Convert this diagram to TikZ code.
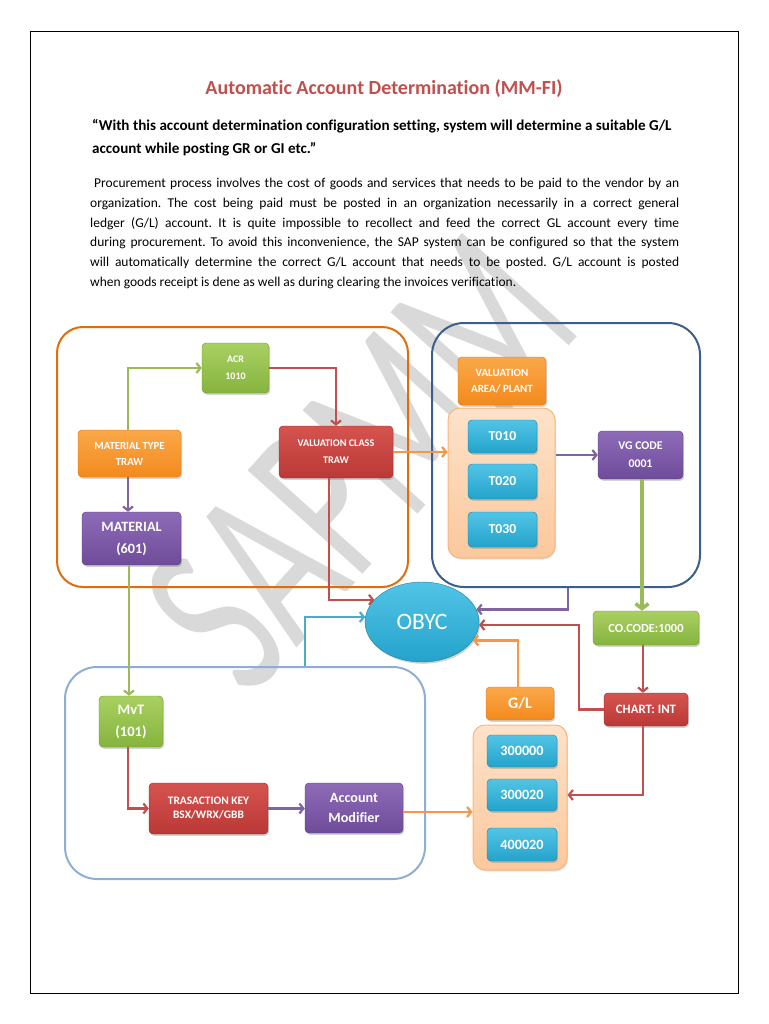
\documentclass[tikz,border=0pt]{standalone}
\usepackage{fontspec}
\setmainfont{Carlito}[Ligatures=NoCommon]
\usetikzlibrary{shapes.geometric,arrows.meta,shadows,calc}
\definecolor{cgreen}{HTML}{86B43E}
\definecolor{cgreenL}{HTML}{A9D062}
\definecolor{cgreenD}{HTML}{6E9231}
\definecolor{corange}{HTML}{F38A1C}
\definecolor{corangeL}{HTML}{FAA84A}
\definecolor{corangeD}{HTML}{D7700C}
\definecolor{cred}{HTML}{BA3835}
\definecolor{credL}{HTML}{D65450}
\definecolor{credD}{HTML}{8E2A28}
\definecolor{cpurple}{HTML}{6F4C9A}
\definecolor{cpurpleL}{HTML}{8E6BB7}
\definecolor{cpurpleD}{HTML}{553A78}
\definecolor{ccyan}{HTML}{24A3CB}
\definecolor{ccyanL}{HTML}{52C4E6}
\definecolor{ccyanD}{HTML}{1F7F9C}
\definecolor{cpeach}{HTML}{FBC89C}
\definecolor{cpeachL}{HTML}{FDE2CA}
\definecolor{cpeachD}{HTML}{F9B57A}
\definecolor{lgreen}{HTML}{9BBB59}
\definecolor{lred}{HTML}{C0504D}
\definecolor{lpurple}{HTML}{8064A2}
\definecolor{lorange}{HTML}{F79646}
\definecolor{lteal}{HTML}{4BACC6}
\definecolor{kor}{HTML}{E36C0A}
\definecolor{kblue}{HTML}{3B5E8C}
\definecolor{klblue}{HTML}{8EAED6}
\definecolor{titlered}{HTML}{C0504D}
\frenchspacing
\begin{document}
\begin{tikzpicture}[x=1pt,y=-1pt,
  box/.style={rounded corners=4pt, inner sep=0pt, align=center, text=white,
    drop shadow={shadow xshift=1.2pt,shadow yshift=-1.8pt,opacity=.35}},
  fs/.style 2 args={font=\bfseries\fontsize{#1}{#2}\selectfont},
  gbox/.style={box, draw=cgreenD, top color=cgreenL, bottom color=cgreen},
  obox/.style={box, draw=corangeD, top color=corangeL, bottom color=corange},
  rbox/.style={box, draw=credD, top color=credL, bottom color=cred},
  pbox/.style={box, draw=cpurpleD, top color=cpurpleL, bottom color=cpurple},
  cbox/.style={box, draw=ccyanD, top color=ccyanL, bottom color=ccyan},
  pcont/.style={rounded corners=12pt, inner sep=0pt, draw=cpeachD, line width=1pt,
    top color=cpeachL, bottom color=cpeach,
    drop shadow={shadow xshift=1pt,shadow yshift=-1.5pt,opacity=.2}},
  bigcont/.style={inner sep=0pt, line width=2pt},
  arr/.style={line width=2.2pt, -{Straight Barb[length=4pt,width=10pt]}},
  txt/.style={anchor=base west, inner sep=0pt}
]
\useasboundingbox (0,0) rectangle (768,1024);
% watermark
\node[inner sep=0pt, rotate=48, text=black!15, font=\fontsize{241}{241}\selectfont] (wm) at (360,462) {\scalebox{0.64}[1]{SAPMM}};
% page frame
\draw[line width=1pt] (30.5,31.5) rectangle (738,993);
% title and text
\node[anchor=base, inner sep=0pt, text=titlered, font=\bfseries\fontsize{20}{24}\selectfont] (title) at (384,95) {Automatic Account Determination (MM-FI)};
\begin{scope}[every node/.style={txt, font=\bfseries\fontsize{15.1}{18}\selectfont}]
\node (q1) at (92,131) {“With this account determination configuration setting, system will determine a suitable G/L};
\node (q2) at (92,154) {account while posting GR or GI etc.”};
\end{scope}
\begin{scope}[every node/.style={txt, font=\fontsize{13.5}{16}\selectfont}]
\node (p1) at (94,188) {\makebox[585pt][s]{Procurement process involves the cost of goods and services that needs to be paid to the vendor by an}};
\node (p2) at (90,207.6) {\makebox[589pt][s]{organization. The cost being paid must be posted in an organization necessarily in a correct general}};
\node (p3) at (90,227.2) {\makebox[589pt][s]{ledger (G/L) account. It is quite impossible to recollect and feed the correct GL account every time}};
\node (p4) at (90,246.8) {\makebox[589pt][s]{during procurement. To avoid this inconvenience, the SAP system can be configured so that the system}};
\node (p5) at (90,266.4) {\makebox[589pt][s]{will automatically determine the correct G/L account that needs to be posted. G/L account is posted}};
\node (p6) at (90,286) {when goods receipt is dene as well as during clearing the invoices verification.};
\end{scope}
% big containers
\node[bigcont, draw=kor, minimum width=351pt, minimum height=260pt, rounded corners=26pt] (ocont) at (232.5,457) {};
\node[bigcont, draw=kblue, minimum width=268pt, minimum height=264pt, rounded corners=32pt] (bcont) at (566,455) {};
\node[bigcont, draw=klblue, minimum width=360pt, minimum height=212pt, rounded corners=32pt] (lbcont) at (245,773) {};
% peach containers
\node[pcont, minimum width=107pt, minimum height=150pt] (tcont) at (501.5,483) {};
\node[pcont, minimum width=94pt, minimum height=145pt] (gcont) at (520,797.5) {};
% boxes
\node[gbox, fs={10}{17}, minimum width=67pt, minimum height=50pt] (acr) at (235.5,368) {ACR\\1010};
\node[obox, fs={10.8}{16}, minimum width=103pt, minimum height=47pt] (mtype) at (129.5,453.5) {MATERIAL TYPE\\TRAW};
\node[rbox, fs={10.2}{17}, minimum width=114pt, minimum height=52pt] (vclass) at (336,452) {VALUATION CLASS\\TRAW};
\node[pbox, fs={14.2}{22}, minimum width=99pt, minimum height=53pt] (mat) at (131.5,538.5) {MATERIAL\\(601)};
\node[obox, fs={11}{16}, minimum width=88pt, minimum height=48pt] (varea) at (502,381) {VALUATION\\AREA/ PLANT};
\node[cbox, fs={13.8}{16}, minimum width=69pt, minimum height=33pt] (t1) at (502.5,436.5) {T010};
\node[cbox, fs={13.8}{16}, minimum width=69pt, minimum height=35pt] (t2) at (502.5,481.5) {T020};
\node[cbox, fs={13.8}{16}, minimum width=69pt, minimum height=35pt] (t3) at (502.5,529.5) {T030};
\node[pbox, fs={11.8}{18}, minimum width=85pt, minimum height=48pt] (vg) at (640.5,455) {VG CODE\\0001};
\node[gbox, fs={12.4}{16}, minimum width=106pt, minimum height=34pt] (cocode) at (646,628) {CO.CODE:1000};
\node[ellipse, draw=ccyanD, top color=ccyanL, bottom color=ccyan, text=white, inner sep=0pt,
  minimum width=114pt, minimum height=80pt, font=\fontsize{23.5}{26}\selectfont,
  drop shadow={shadow xshift=1.2pt,shadow yshift=-1.8pt,opacity=.35}] (obyc) at (422,622) {OBYC};
\node[obox, fs={16}{18}, minimum width=68pt, minimum height=33pt] (gl) at (520,703.5) {G/L};
\node[cbox, fs={14.2}{16}, minimum width=70pt, minimum height=32pt] (n1) at (522,751) {300000};
\node[cbox, fs={14.2}{16}, minimum width=70pt, minimum height=32pt] (n2) at (522,795) {300020};
\node[cbox, fs={14.2}{16}, minimum width=70pt, minimum height=33pt] (n3) at (522,844.5) {400020};
\node[rbox, fs={12.8}{16}, minimum width=84pt, minimum height=33pt] (chart) at (646,709.5) {CHART: INT};
\node[gbox, fs={14.5}{22}, minimum width=64pt, minimum height=51pt] (mvt) at (131,721.5) {MvT\\(101)};
\node[rbox, fs={11.4}{14}, minimum width=119pt, minimum height=51pt] (tk) at (208.5,808.5) {TRASACTION KEY\\BSX/WRX/GBB};
\node[pbox, fs={14.2}{20}, minimum width=98pt, minimum height=50pt] (am) at (354,808) {Account\\Modifier};
% connectors
\draw[arr, lgreen] ([xshift=-1.5pt]mtype.north) |- (acr.west);
\draw[arr, lred] (acr.east) -| (vclass.north);
\draw[arr, lpurple] ([xshift=-1.5pt]mtype.south) -- ([xshift=-1.5pt]mtype.south |- mat.north);
\draw[arr, lgreen] ([xshift=-2.5pt]mat.south) -- ([xshift=-2.5pt]mat.south |- mvt.north);
\draw[arr, lred] ([xshift=-7pt]vclass.south) |- (obyc.155);
\draw[arr, lorange] (vclass.east) -- (vclass.east -| tcont.west);
\draw[arr, lpurple] (vg.west -| tcont.east) -- (vg.west);
\draw[arr, lgreen, line width=3.5pt, -{Straight Barb[length=5pt,width=13pt]}] ([xshift=1.5pt]vg.south) -- ([xshift=1.5pt]vg.south |- cocode.north);
\draw[arr, lpurple] ([xshift=2pt]bcont.south) |- (obyc.13.6);
\draw[arr, lred] (chart.west) -- ++(-25,0) |- (obyc.-3);
\draw[arr, lorange] ([xshift=-2pt]gl.north) |- (obyc.-20.7);
\draw[arr, lred] ([xshift=-3pt]cocode.south) -- ([xshift=-3pt]cocode.south |- chart.north);
\draw[arr, lred] ([xshift=-3pt]chart.south) |- ([yshift=2.5pt]gcont.east);
\draw[arr, lteal] ([xshift=60pt]lbcont.north) |- (obyc.175);
\draw[arr, lred] ([xshift=-3pt]mvt.south) |- (tk.west);
\draw[arr, lpurple] (tk.east) -- (tk.east -| am.west);
\draw[arr, lorange] ([yshift=-4pt]am.east) -- ([yshift=-4pt]am.east -| gcont.west);
\end{tikzpicture}
\end{document}
